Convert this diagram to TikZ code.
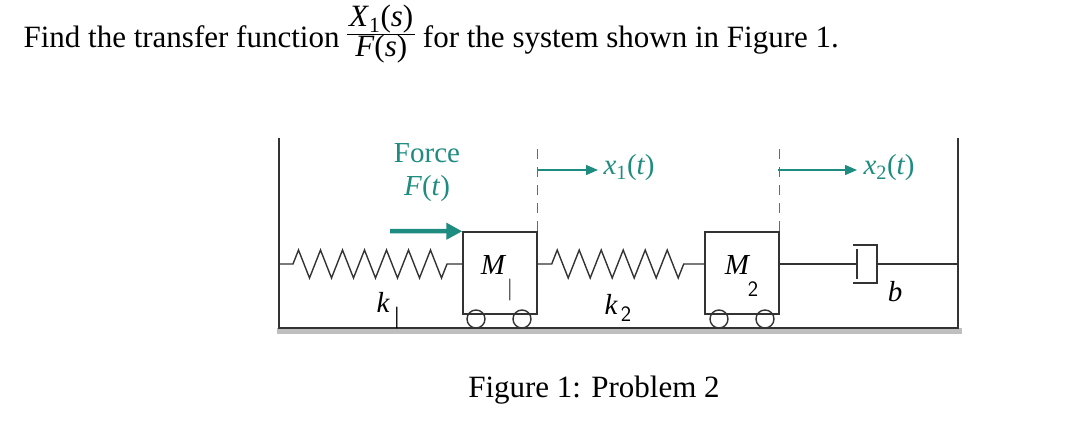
\documentclass[tikz,border=0pt]{standalone}
\usepackage{fontspec}
\setmainfont{Liberation Serif}
\usetikzlibrary{decorations.pathmorphing,arrows.meta}
\begin{document}
\begin{tikzpicture}[x=1pt,y=-1pt,
  teal/.style={color={rgb,255:red,30;green,140;blue,128}},
  ln/.style={line width=1.4pt,black!80},
  spr/.style={ln,decorate,decoration={zigzag,segment length=22pt,amplitude=14pt,pre length=14pt,post length=12pt}},
  mass/.style={ln,draw,fill=white,minimum width=74pt,minimum height=82pt,inner sep=0pt},
  wheel/.style={ln,draw,circle,minimum size=18pt,inner sep=0pt},
  lbl/.style={font=\fontsize{29}{32}\selectfont\itshape},
  hw/.style={font=\fontsize{22}{24}\sffamily}]
\useasboundingbox (0,0) rectangle (1092,444);
% title
\node[anchor=west,font=\fontsize{31}{34}\selectfont] (t1) at (20,34) {Find the transfer function \raisebox{-0.6ex}{\shortstack{\textit{X}\textsubscript{1}(\textit{s})\\[-2pt]\rule{68pt}{1pt}\\[-4pt]\textit{F}(\textit{s})}} for the system shown in Figure 1.};
% frame
\fill[black!25] (277,328) rectangle (962,334);
\draw[ln,line width=2.2pt] (279,138) -- (279,328) -- (958,328) -- (958,138);
\coordinate (wl) at (279,264); \coordinate (wr) at (958,264);
% masses
\node[mass] (m1) at (500,273) {};
\node[mass] (m2) at (742,273) {};
\node[lbl] at (493,265) {M};
\node[hw] at (510,290) {|};
\node[lbl] at (737,265) {M};
\node[hw] at (753,289) {2};
\foreach \x in {476,522} \node[wheel] at (\x,319) {};
\foreach \x in {719,765} \node[wheel] at (\x,319) {};
% springs
\draw[spr] (wl) -- (m1.west|-wl);
\draw[spr] (m1.east|-wl) -- (m2.west|-wl);
% damper
\coordinate (p) at (857,264);
\draw[ln] (m2.east|-wl) -- (p);
\draw[ln] (857,249) -- (857,279);
\draw[ln] (853,245) -- (877,245) -- (877,283) -- (853,283);
\draw[ln] (877,264) -- (wr);
\node[lbl] at (895,292) {b};
\node[lbl] (k1) at (383,302) {k};
\node[hw] at (397,318) {\textbf{|}};
\node[lbl] at (611,304) {k};
\node[hw] at (626,314) {2};
% displacements
\draw[teal,line width=1.1pt,dash pattern=on 10pt off 8pt] (m1.north east) -- ++(0,-84);
\draw[teal,line width=1.1pt,dash pattern=on 10pt off 8pt] (m2.north east) -- ++(0,-84);
\draw[teal,line width=1.4pt,-{Triangle[length=12pt,width=10pt]}] (537,170) -- (598,170);
\draw[teal,line width=1.4pt,-{Triangle[length=12pt,width=10pt]}] (778,170) -- (857,170);
\node[lbl,teal,anchor=west] at (600,168) {x\textsubscript{\upshape1}\upshape(\itshape t\upshape)};
\node[lbl,teal,anchor=west] at (860,168) {x\textsubscript{\upshape2}\upshape(\itshape t\upshape)};
\node[teal,font=\fontsize{29}{32}\selectfont] at (427,153) {Force};
\node[teal,font=\fontsize{29}{32}\selectfont] at (427,189) {\textit{F}(\textit{t})};
\draw[teal,line width=4.5pt,-{Triangle[length=16pt,width=16pt]}] (390,231) -- (m1.north west);
% caption
\node[font=\fontsize{31}{34}\selectfont] (cap) at (594,390) {Figure 1: Problem 2};
\end{tikzpicture}
\end{document}
